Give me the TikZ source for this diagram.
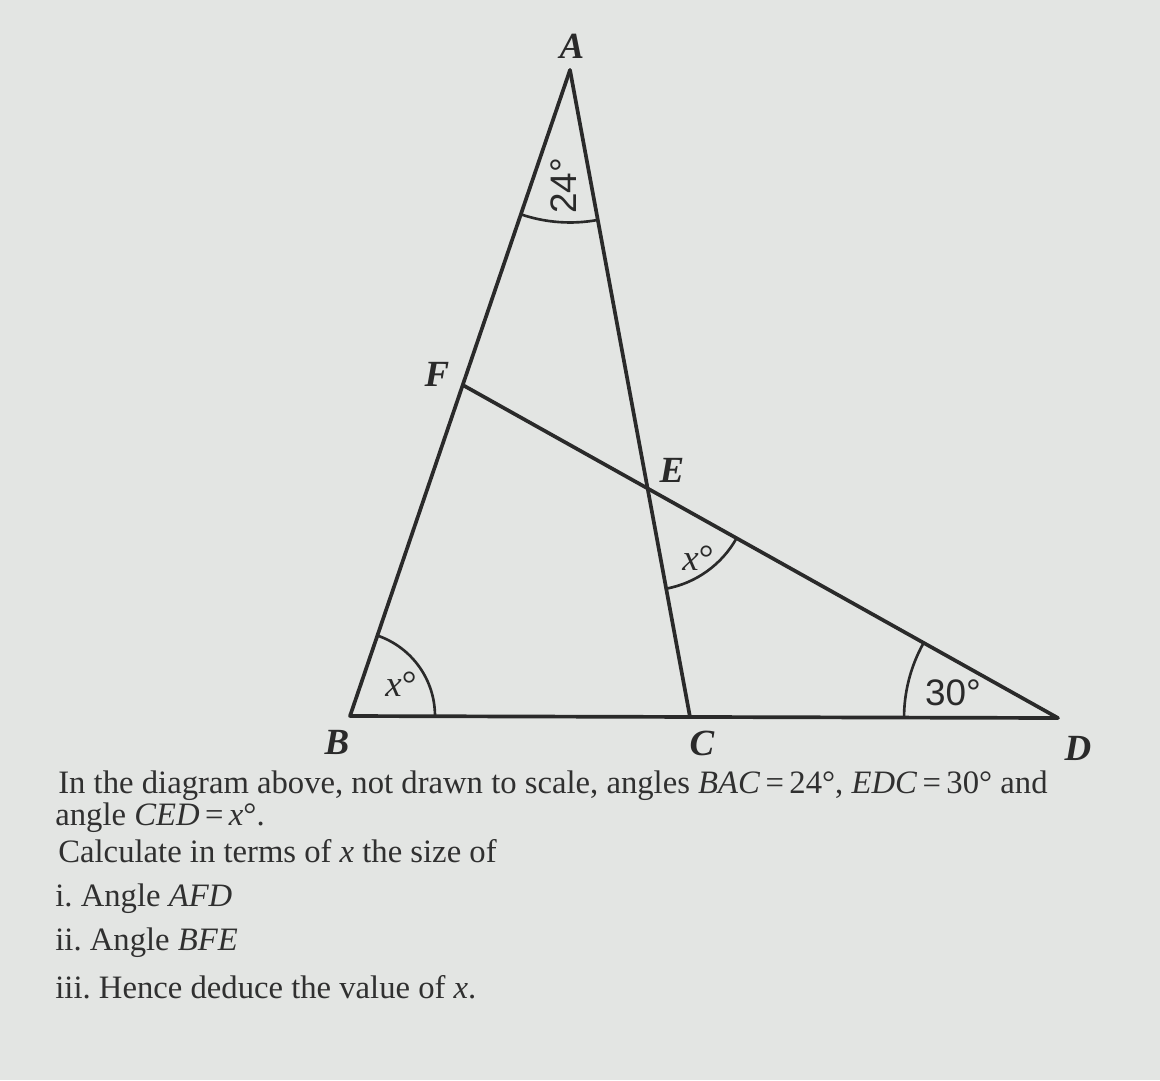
\documentclass[tikz,border=0pt]{standalone}
\usepackage{fontspec}
\setmainfont{Liberation Serif}
\newfontfamily\lsans{Liberation Sans}
\usetikzlibrary{calc}
\definecolor{bg}{RGB}{227,229,227}
\definecolor{ink}{RGB}{42,42,42}
\definecolor{txt}{RGB}{48,48,48}
\frenchspacing
\begin{document}
\begin{tikzpicture}[x=0.02cm,y=-0.02cm,
  seg/.style={draw=ink,line width=2.1pt,line cap=round,line join=round},
  angarc/.style={draw=ink,line width=1.5pt},
  ptlabel/.style={text=ink,font=\fontsize{21}{24}\selectfont\bfseries\itshape,inner sep=0pt},
  anglab/.style={text=ink,font=\fontsize{21}{24}\selectfont,inner sep=0pt},
  body/.style={text=txt,font=\fontsize{18.6}{22}\selectfont,anchor=base west,inner sep=0pt}]
\fill[bg] (0,0) rectangle (1160,1080);
\useasboundingbox (0,0) rectangle (1160,1080);
% points
\coordinate (A) at (570,70);
\coordinate (B) at (350,716);
\coordinate (C) at (690,717);
\coordinate (D) at (1058,718);
\coordinate (F) at ($(A)!0.4876!(B)$);
\coordinate (E) at (intersection of A--C and F--D);
% sides
\draw[seg] (A) -- (B) -- (D) -- (F);
\draw[seg] (A) -- (C);
% angle arcs
\draw[angarc] (A) ++(-108.8:3.05cm) arc[start angle=-108.8,end angle=-79.5,radius=3.05cm];
\draw[angarc] (B) ++(0:1.7cm) arc[start angle=0,end angle=71.2,radius=1.7cm];
\draw[angarc] (E) ++(-79.6:2.04cm) arc[start angle=-79.6,end angle=-29.3,radius=2.04cm];
\draw[angarc] (D) ++(150.8:3.08cm) arc[start angle=150.8,end angle=180,radius=3.08cm];
% point labels
\node[ptlabel] (lA) at (572,46) {A};
\node[ptlabel] (lB) at (337,742) {B};
\node[ptlabel] (lC) at (702,743) {C};
\node[ptlabel] (lD) at (1078,748) {D};
\node[ptlabel] (lE) at (672,470) {E};
\node[ptlabel] (lF) at (437,374) {F};
% angle labels
\node[anglab,rotate=90] (l24) at (564,186) {\lsans 24°};
\node[anglab] (lxB) at (401,684) {\itshape x\upshape°};
\node[anglab] (lxE) at (698,558) {\itshape x\upshape°};
\node[anglab] (l30) at (953,693) {\lsans 30°};
% text
\node[body] (t1) at (58,793) {In the diagram above, not drawn to scale, angles \textit{BAC}\,=\,24°, \textit{EDC}\,=\,30° and};
\node[body] (t2) at (55,825) {angle \textit{CED}\,=\,\textit{x}°.};
\node[body] (t3) at (58,862) {Calculate in terms of \textit{x} the size of};
\node[body] (t4) at (55,906) {i. Angle \textit{AFD}};
\node[body] (t5) at (55,950) {ii. Angle \textit{BFE}};
\node[body] (t6) at (55,998) {iii. Hence deduce the value of \textit{x}.};
\end{tikzpicture}
\end{document}
